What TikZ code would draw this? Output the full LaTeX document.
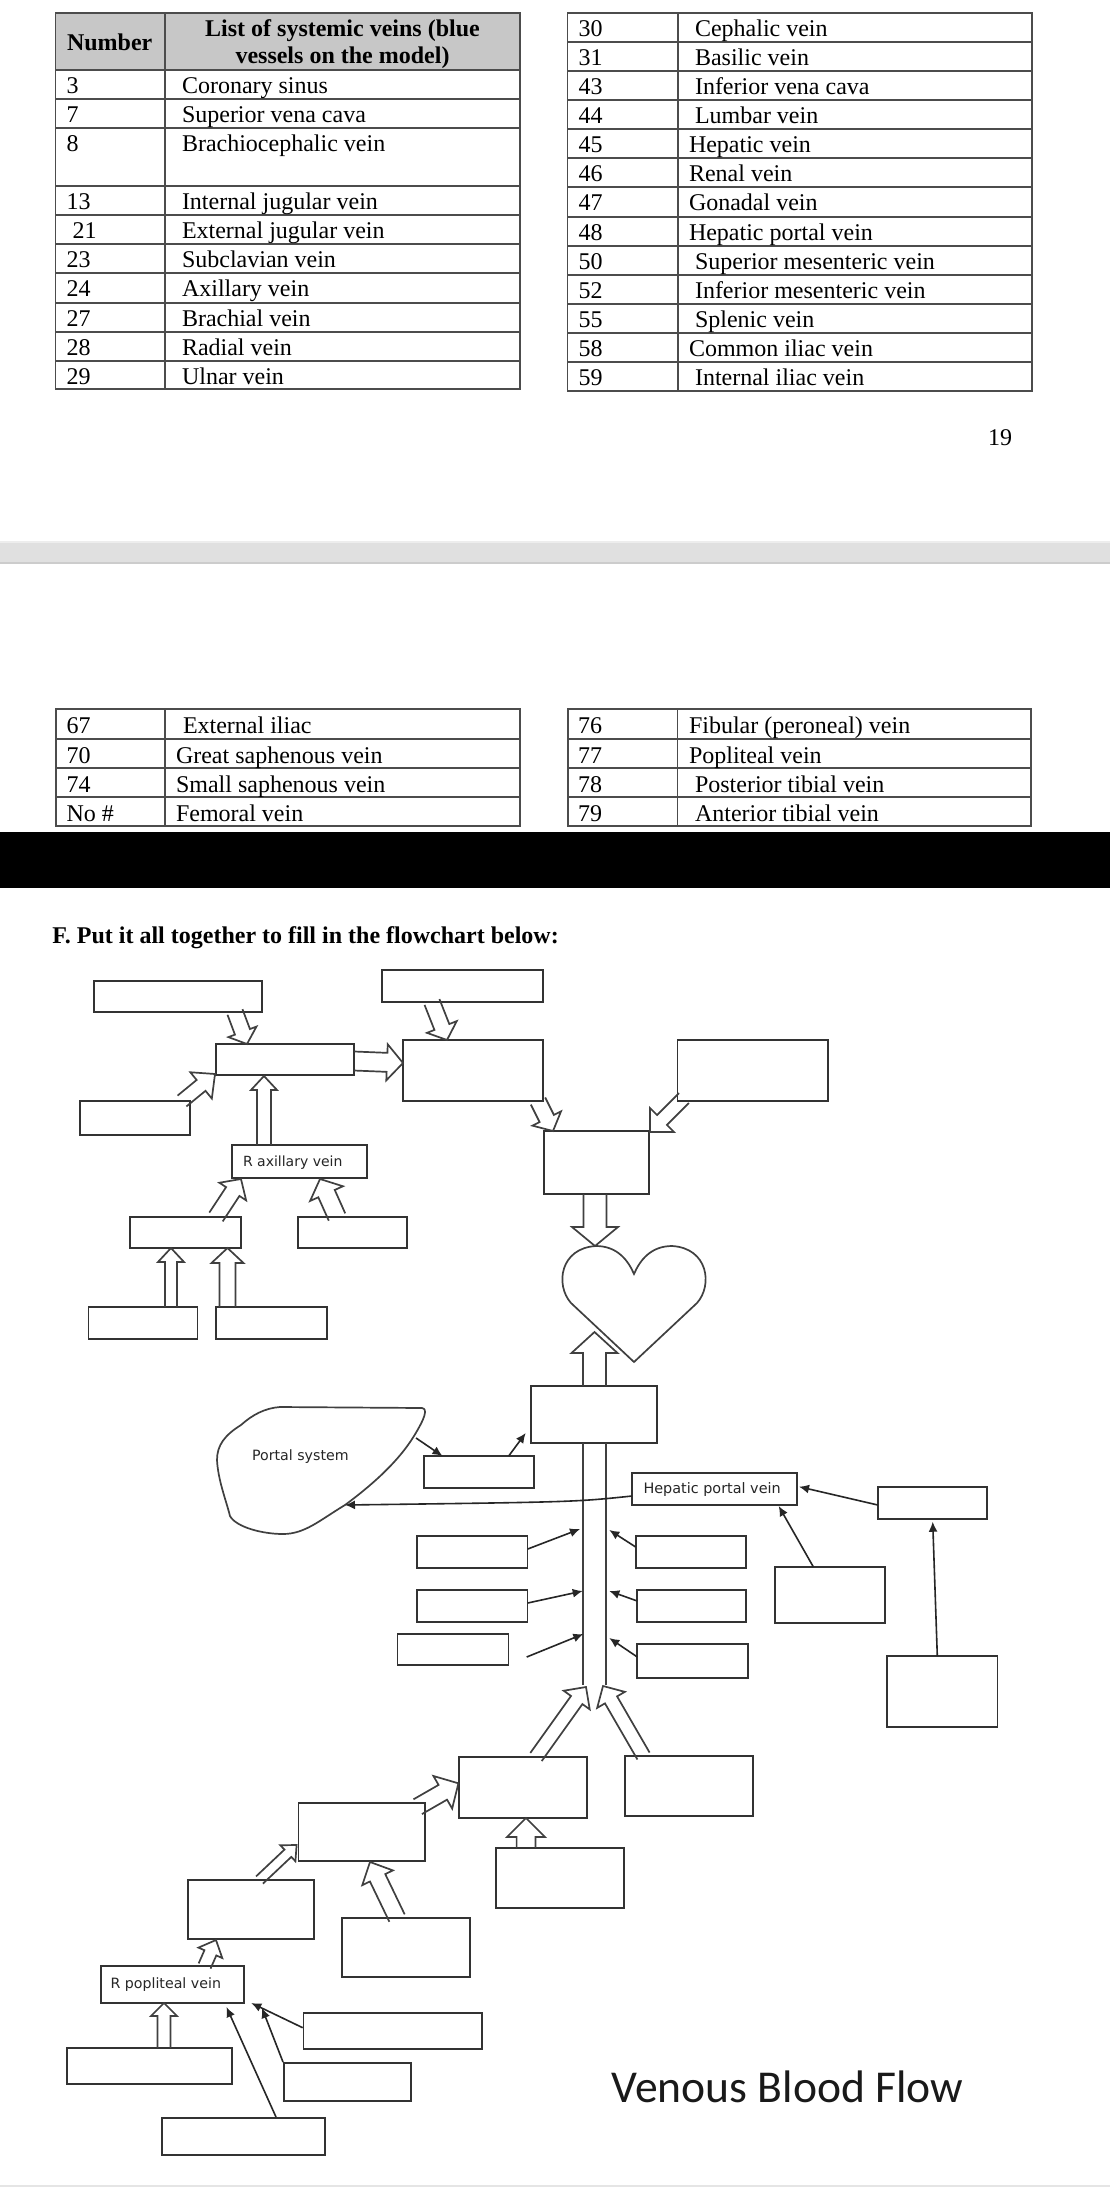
\documentclass[tikz,border=0pt]{standalone}
\usepackage{fontspec}
\setmainfont{Liberation Serif}
\newfontfamily\dvsans{DejaVu Sans}
\newfontfamily\carlito{Carlito}
\usetikzlibrary{calc,arrows.meta}
\newcommand\bx[5]{\node[box, minimum width={(#4-#2)*0.5pt}, minimum height={(#5-#3)*0.5pt}] (#1) at ({(#2+#4)/2},{(#3+#5)/2}) {};}
\newcommand\barrow[5]{\draw[harrow] ($(#1)!#3!90:(#2)$) -- ($(#2)!#5!(#1)!#3!-90:(#1)$) -- ($(#2)!#5!(#1)!#4!-90:(#1)$) -- (#2) -- ($(#2)!#5!(#1)!#4!90:(#1)$) -- ($(#2)!#5!(#1)!#3!90:(#1)$) -- ($(#1)!#3!-90:(#2)$);}
\newcommand\tx[4]{\node[txt] (#1) at (#2,#3) {#4};}
\tikzset{
 box/.style={draw=black!80, line width=0.9pt, inner sep=0, outer sep=0, rectangle},
 harrow/.style={draw=black!75, line width=0.85pt, line join=miter},
 tarrow/.style={draw=black!85, line width=0.8pt, -{Latex[length=5pt,width=4.5pt]}},
 tline/.style={draw=black!70, line width=0.7pt},
 txt/.style={inner sep=0, outer sep=0, anchor=base west, font=\fontsize{12}{14}\selectfont},
 txtb/.style={inner sep=0, outer sep=0, anchor=base, font=\bfseries\fontsize{12}{14}\selectfont},
 lbl/.style={inner sep=0, outer sep=0, anchor=west, text=black!85, font=\dvsans\fontsize{7}{8}\selectfont},
 shape2/.style={draw=black!75, line width=0.85pt},
}
\begin{document}
\begin{tikzpicture}[x=0.5pt,y=-0.5pt]
\useasboundingbox (0,0) rectangle (1110,2188);
\fill[white] (0,0) rectangle (1110,2188);
% ---------------- upper left table
\fill[black!22] (55.6,13) rectangle (520,70);
\draw[tline] (55.6,13) rectangle (520,389);
\foreach \yy in {70,99,128,186,215,244,273,303,332,361} \draw[tline] (55.6,\yy) -- (520,\yy);
\draw[tline] (165,13) -- (165,389);
\node[txt, font=\bfseries\fontsize{12}{14}\selectfont] (hnum) at (67,50.7) {Number};
\node[txtb] (hl1) at (342.5,36.7) {List of systemic veins (blue};
\node[txtb] (hl2) at (342.5,64) {vessels on the model)};
\tx{n3}{66.5}{94}{3}\tx{v3}{182}{94}{Coronary sinus}
\tx{n7}{66.5}{123}{7}\tx{v7}{182}{123}{Superior vena cava}
\tx{n8}{66.5}{152}{8}\tx{v8}{182}{152}{Brachiocephalic vein}
\tx{n13}{66.5}{210}{13}\tx{v13}{182}{210}{Internal jugular vein}
\tx{n21}{72.5}{239}{21}\tx{v21}{182}{239}{External jugular vein}
\tx{n23}{66.5}{268}{23}\tx{v23}{182}{268}{Subclavian vein}
\tx{n24}{66.5}{297}{24}\tx{v24}{182}{297}{Axillary vein}
\tx{n27}{66.5}{327}{27}\tx{v27}{182}{327}{Brachial vein}
\tx{n28}{66.5}{356}{28}\tx{v28}{182}{356}{Radial vein}
\tx{n29}{66.5}{385}{29}\tx{v29}{182}{385}{Ulnar vein}
% ---------------- upper right table
\draw[tline] (567.4,13) rectangle (1032,391);
\foreach \yy in {42,71,100,129,158,187,217,246,275,304,333,362} \draw[tline] (567.4,\yy) -- (1032,\yy);
\draw[tline] (678,13) -- (678,391);
\tx{n30}{578.7}{37}{30}\tx{v30}{695}{37}{Cephalic vein}
\tx{n31}{578.7}{66}{31}\tx{v31}{695}{66}{Basilic vein}
\tx{n43}{578.7}{95}{43}\tx{v43}{695}{95}{Inferior vena cava}
\tx{n44}{578.7}{124}{44}\tx{v44}{695}{124}{Lumbar vein}
\tx{n45}{578.7}{153}{45}\tx{v45}{689}{153}{Hepatic vein}
\tx{n46}{578.7}{182}{46}\tx{v46}{689}{182}{Renal vein}
\tx{n47}{578.7}{211}{47}\tx{v47}{689}{211}{Gonadal vein}
\tx{n48}{578.7}{241}{48}\tx{v48}{689}{241}{Hepatic portal vein}
\tx{n50}{578.7}{270}{50}\tx{v50}{695}{270}{Superior mesenteric vein}
\tx{n52}{578.7}{299}{52}\tx{v52}{695}{299}{Inferior mesenteric vein}
\tx{n55}{578.7}{328}{55}\tx{v55}{695}{328}{Splenic vein}
\tx{n58}{578.7}{357}{58}\tx{v58}{689}{357}{Common iliac vein}
\tx{n59}{578.7}{386}{59}\tx{v59}{695}{386}{Internal iliac vein}
% page number and page break
\tx{pg}{988}{445}{19}
\fill[black!12] (0,542) rectangle (1110,563);
\draw[black!7, line width=0.6pt] (0,542) -- (1110,542);
\draw[black!20, line width=0.6pt] (0,563) -- (1110,563);
% ---------------- lower tables
\draw[tline] (56,709) rectangle (520,826);
\foreach \yy in {739,768,797} \draw[tline] (56,\yy) -- (520,\yy);
\draw[tline] (165,709) -- (165,826);
\tx{n67}{66.5}{733}{67}\tx{v67}{183}{733}{External iliac}
\tx{n70}{66.5}{763}{70}\tx{v70}{176}{763}{Great saphenous vein}
\tx{n74}{66.5}{792}{74}\tx{v74}{176}{792}{Small saphenous vein}
\tx{nno}{66.5}{821}{No \#}\tx{vno}{176}{821}{Femoral vein}
\draw[tline] (568,709) rectangle (1031,826);
\foreach \yy in {739,768,797} \draw[tline] (568,\yy) -- (1031,\yy);
\draw[tline] (677.5,709) -- (677.5,826);
\tx{n76}{578}{733}{76}\tx{v76}{689}{733}{Fibular (peroneal) vein}
\tx{n77}{578}{763}{77}\tx{v77}{689}{763}{Popliteal vein}
\tx{n78}{578}{792}{78}\tx{v78}{695}{792}{Posterior tibial vein}
\tx{n79}{578}{821}{79}\tx{v79}{695}{821}{Anterior tibial vein}
\fill[black] (0,832) rectangle (1110,888);
% heading
\node[txt, font=\bfseries\fontsize{12}{14}\selectfont] (head) at (52.4,943) {F. Put it all together to fill in the flowchart below:};
% ---------------- flowchart boxes
\bx{A}{94}{981}{262}{1012}
\bx{B}{382}{970}{543}{1002}
\bx{C}{216}{1044}{354}{1075}
\bx{D}{403}{1040}{543}{1101}
\bx{E}{80}{1101}{190}{1135}
\bx{Rax}{232}{1145}{367}{1178}
\node[lbl] (raxt) at (243,1163) {R axillary vein};
\bx{F}{130}{1217}{241}{1248}
\bx{G}{298}{1217}{407}{1248}
\bx{H}{88.5}{1307}{197.5}{1339}
\bx{I}{216}{1307}{327}{1339}
\bx{J}{677.5}{1040}{827.6}{1101}
\bx{K}{544}{1131}{649}{1194}
\bx{L}{531}{1386}{657}{1443}
\bx{M}{424}{1456}{534}{1488}
\bx{HPV}{632}{1473}{797}{1505}
\node[lbl, font=\dvsans\fontsize{7.2}{8}\selectfont] (hpvt) at (643.5,1490) {Hepatic portal vein};
\bx{N1}{417}{1536}{527.5}{1568}
\bx{N2}{417}{1590}{527.5}{1622}
\bx{N3}{397.5}{1634}{508.5}{1665}
\bx{R1}{636}{1536}{746}{1568}
\bx{R2}{637.3}{1590}{746}{1622}
\bx{R3}{637.3}{1644}{747.7}{1678}
\bx{S}{878}{1487}{987}{1519}
\bx{T}{775}{1567}{885}{1623}
\bx{U}{887}{1656}{997.5}{1727}
\bx{P}{459}{1757}{587}{1818}
\bx{Q}{625}{1756}{753}{1816}
\bx{V}{495.6}{1848}{624}{1908}
\bx{W}{298.4}{1803}{424.8}{1861}
\bx{X}{188.3}{1880}{314.3}{1939}
\bx{AA}{341.6}{1918}{470}{1977}
\bx{Y}{101}{1966}{244}{2003}
\node[lbl, font=\dvsans\fontsize{7.1}{8}\selectfont] (yt) at (110.5,1985) {R popliteal vein};
\bx{Z1}{303.4}{2013}{482}{2049}
\bx{Z2}{284}{2063}{410.6}{2101}
\bx{Z3}{67.3}{2048}{232}{2084}
\bx{Z4}{162}{2118}{325}{2155}
% heart
\draw[shape2] (634,1362) -- (571,1303) .. controls (555,1285) and (560,1248) .. (596,1246) .. controls (617,1246) and (628,1260) .. (634,1274) .. controls (640,1260) and (651,1246) .. (672,1246) .. controls (708,1248) and (713,1285) .. (697,1303) -- cycle;
% portal blob
\draw[shape2] (280,1407) -- (422,1408) .. controls (428,1409) and (425,1418) .. (414,1436) .. controls (398,1462) and (372,1485) .. (345,1505) .. controls (320,1520) and (305,1534) .. (283,1534) .. controls (262,1534) and (236,1527) .. (230,1516) .. controls (226,1500) and (218,1480) .. (217,1460) .. controls (217,1445) and (225,1435) .. (241,1425) .. controls (252,1415) and (265,1408) .. (280,1407) -- cycle;
\node[lbl, font=\dvsans\fontsize{7.1}{8}\selectfont] (pst) at (252,1457) {Portal system};
% inferior vena cava tube
\draw[harrow] (583.3,1443) -- (583.3,1685);
\draw[harrow] (606,1443) -- (606,1685);
% ---------------- block arrow end points
\coordinate (a1) at (235,1012); \coordinate (a2) at (247,1044);
\coordinate (b1) at (432,1002); \coordinate (b2) at (447,1040);
\coordinate (c1) at (354,1061); \coordinate (c2) at (403,1063);
\coordinate (e1) at (182,1101); \coordinate (e2) at (215,1074);
\coordinate (r1) at (264,1145); \coordinate (r2) at (264,1076);
\coordinate (f1) at (216,1217); \coordinate (f2) at (241,1179);
\coordinate (g1) at (337,1217); \coordinate (g2) at (320,1179);
\coordinate (h1) at (171,1307); \coordinate (h2) at (171,1248);
\coordinate (i1) at (227.5,1307); \coordinate (i2) at (227.5,1248);
\coordinate (d1) at (538,1101); \coordinate (d2) at (553,1131);
\coordinate (j1) at (684,1098); \coordinate (j2) at (650,1132);
\coordinate (k1) at (595,1194); \coordinate (k2) at (595,1246);
\coordinate (l1) at (594.5,1386); \coordinate (l2) at (594.5,1332);
\coordinate (p1) at (536,1757); \coordinate (p2) at (586,1687);
\coordinate (q1) at (643.5,1756); \coordinate (q2) at (603,1686);
\coordinate (w1) at (417.7,1806.7); \coordinate (w2) at (458.4,1783.3);
\coordinate (xa) at (259.5,1880); \coordinate (xb) at (296.6,1845);
\coordinate (aa1) at (397,1918); \coordinate (aa2) at (370,1862);
\coordinate (v1) at (526,1848); \coordinate (v2) at (526,1818);
\coordinate (ya) at (204.6,1966); \coordinate (yb) at (216,1940);
\coordinate (za) at (164,2048); \coordinate (zb) at (164,2003);
\barrow{a1}{a2}{4pt}{7.5pt}{6.5pt}
\barrow{b1}{b2}{4pt}{8pt}{7pt}
\barrow{c1}{c2}{4.75pt}{9pt}{8pt}
\barrow{e1}{e2}{3.5pt}{8.5pt}{9pt}
\barrow{r1}{r2}{3.5pt}{6.5pt}{7pt}
\barrow{f1}{f2}{4pt}{8pt}{7.5pt}
\barrow{g1}{g2}{4.5pt}{9pt}{8pt}
\barrow{h1}{h2}{3pt}{6.5pt}{7pt}
\barrow{i1}{i2}{4pt}{8pt}{7.5pt}
\barrow{d1}{d2}{4pt}{8pt}{7pt}
\barrow{j1}{j2}{3.5pt}{8.5pt}{8.5pt}
\barrow{k1}{k2}{5.75pt}{11.5pt}{9.5pt}
\barrow{l1}{l2}{5.75pt}{11.5pt}{10.5pt}
\barrow{p1}{p2}{3.5pt}{8pt}{8pt}
\barrow{q1}{q2}{3.5pt}{8pt}{8pt}
\barrow{w1}{w2}{4.25pt}{9.4pt}{9pt}
\barrow{xa}{xb}{2.5pt}{5.5pt}{6pt}
\barrow{aa1}{aa2}{4.25pt}{8.5pt}{8.75pt}
\barrow{v1}{v2}{4.7pt}{9.5pt}{9.5pt}
\barrow{ya}{yb}{3.25pt}{6.5pt}{7pt}
\barrow{za}{zb}{3.25pt}{6.5pt}{6.5pt}
% ---------------- thin arrows
\coordinate (t1a) at (416,1438); \coordinate (t1b) at (442.5,1456);
\coordinate (t2a) at (508.7,1456); \coordinate (t2b) at (525.7,1433);
\coordinate (hpa) at (632,1496); \coordinate (hpb) at (345,1505);
\coordinate (n1a) at (527.7,1549); \coordinate (n1b) at (580,1529);
\coordinate (n2a) at (527.7,1603); \coordinate (n2b) at (582.7,1591);
\coordinate (n3a) at (526.7,1657); \coordinate (n3b) at (583.3,1634);
\coordinate (r1a) at (635.7,1547); \coordinate (r1b) at (609.3,1530);
\coordinate (r2a) at (637.3,1601); \coordinate (r2b) at (609.3,1591);
\coordinate (r3a) at (637.3,1657); \coordinate (r3b) at (609.3,1638);
\coordinate (sa) at (877.8,1505); \coordinate (sb) at (799,1486.7);
\coordinate (ta) at (813.4,1567); \coordinate (tb) at (778.7,1506);
\coordinate (ua) at (937.3,1656); \coordinate (ub) at (932.7,1521.7);
\coordinate (z4a) at (276,2117); \coordinate (z4b) at (226.5,2007);
\coordinate (z2a) at (283,2062); \coordinate (z2b) at (262,2008);
\coordinate (z1a) at (302.7,2027.7); \coordinate (z1b) at (251.3,2003);
\draw[tarrow] (t1a) -- (t1b);
\draw[tarrow] (t2a) -- (t2b);
\draw[tarrow] (hpa) .. controls (575,1502) .. (hpb);
\draw[tarrow] (n1a) -- (n1b);
\draw[tarrow] (n2a) -- (n2b);
\draw[tarrow] (n3a) -- (n3b);
\draw[tarrow] (r1a) -- (r1b);
\draw[tarrow] (r2a) -- (r2b);
\draw[tarrow] (r3a) -- (r3b);
\draw[tarrow] (sa) -- (sb);
\draw[tarrow] (ta) -- (tb);
\draw[tarrow] (ua) -- (ub);
\draw[tarrow] (z4a) -- (z4b);
\draw[tarrow] (z2a) -- (z2b);
\draw[tarrow] (z1a) -- (z1b);
% title
\node[inner sep=0, outer sep=0, anchor=base west, text=black!90, font=\carlito\fontsize{22.8}{26}\selectfont] (vbf) at (611.6,2102.7) {Venous Blood Flow};
\draw[black!10, line width=0.6pt] (0,2186) -- (1110,2186);
\end{tikzpicture}
\end{document}
